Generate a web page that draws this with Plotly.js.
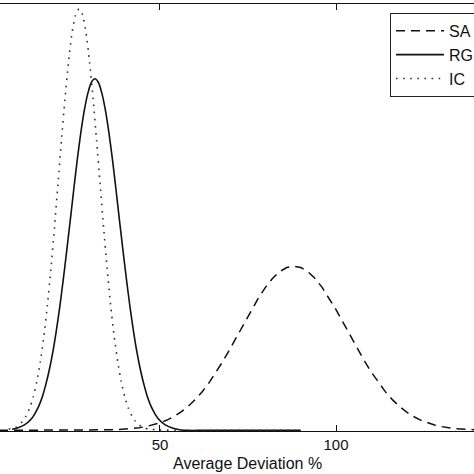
<!DOCTYPE html>
<html>
<head>
<meta charset="utf-8">
<script src="https://cdn.plot.ly/plotly-3.0.1.min.js"></script>
<style>html,body{margin:0;padding:0;background:#fff;}#chart{width:474px;height:474px;}</style>
</head>
<body>
<div id="chart"></div>
<script>
// Series names (legend)
var seriesNames = ["SA", "RG", "IC"];

// SA series (dashed)
var saX = [0, 20, 30, 36, 38, 40, 42, 44, 46, 48, 50, 52, 54, 56, 58, 60, 62, 64, 66, 68, 70, 72, 74, 76, 78, 80, 82, 84, 86, 88, 90, 92, 94, 96, 98, 100, 102, 104, 106, 108, 110, 112, 114, 116, 118, 120, 122, 124, 126, 128, 130, 132, 134, 138, 143, 150, 160];
var saY = [0, 0, 0, 0.0001, 0.00013, 0.0002, 0.00029, 0.00043, 0.00062, 0.00089, 0.00124, 0.0017, 0.00229, 0.00303, 0.00395, 0.00506, 0.00637, 0.00789, 0.0096, 0.01149, 0.01352, 0.01563, 0.01777, 0.01985, 0.0218, 0.02355, 0.025, 0.0261, 0.02677, 0.027, 0.02677, 0.0261, 0.025, 0.02355, 0.0218, 0.01985, 0.01777, 0.01563, 0.01352, 0.01149, 0.0096, 0.00789, 0.00637, 0.00506, 0.00395, 0.00303, 0.00229, 0.0017, 0.00124, 0.00089, 0.00062, 0.00043, 0.00029, 0.00013, 0.00004, 0, 0];

// RG series (solid)
var rgX = [8, 9.5, 11.5, 13.5, 14.5, 15.5, 16.5, 17.5, 18.5, 19.5, 20.5, 21.5, 22.5, 23.5, 24.5, 25.5, 26.5, 27.5, 28.5, 29.5, 30.5, 31.5, 32.5, 33.5, 34.5, 35.5, 36.5, 37.5, 38.5, 39.5, 40.5, 41.5, 42.5, 43.5, 44.5, 45.5, 46.5, 47.5, 48.5, 49.5, 51.5, 53.5, 55.5, 58, 62, 70, 80, 90];
var rgY = [0.0002, 0.0004, 0.0009, 0.0019, 0.0028, 0.0039, 0.0054, 0.0074, 0.0098, 0.0127, 0.0162, 0.0202, 0.0247, 0.0295, 0.0345, 0.0396, 0.0445, 0.0489, 0.0526, 0.0554, 0.0572, 0.0578, 0.0572, 0.0554, 0.0526, 0.0489, 0.0445, 0.0396, 0.0345, 0.0295, 0.0247, 0.0202, 0.0162, 0.0127, 0.0098, 0.0074, 0.0054, 0.0039, 0.0028, 0.0019, 0.0009, 0.0004, 0.0001, 0, 0, 0, 0, 0];

// IC series (dotted)
var icX = [7, 9, 11, 12, 13, 14, 15, 16, 17, 18, 19, 20, 21, 22, 23, 24, 25, 26, 27, 28, 29, 30, 31, 32, 33, 34, 35, 36, 37, 38, 39, 40, 41, 42, 43, 45, 47, 49, 55, 70, 90];
var icY = [0.0002, 0.0005, 0.0015, 0.0024, 0.0037, 0.0055, 0.008, 0.0113, 0.0154, 0.0205, 0.0265, 0.0332, 0.0404, 0.0476, 0.0545, 0.0605, 0.0653, 0.0683, 0.0693, 0.0683, 0.0653, 0.0605, 0.0545, 0.0476, 0.0404, 0.0332, 0.0265, 0.0205, 0.0154, 0.0113, 0.008, 0.0055, 0.0037, 0.0024, 0.0015, 0.0005, 0.0002, 0.0001, 0, 0, 0];

// Axis ticks and title
var xTickVals = [0, 50, 100, 150];
var xTickText = ["0", "50", "100", "150"];
var xAxisTitle = "Average Deviation %";

var FONT = "Liberation Sans, Arial, Helvetica, sans-serif";

var traces = [
  {x: saX, y: saY, name: seriesNames[0], type: "scatter", mode: "lines",
   line: {color: "#111", width: 1.5, dash: "9px,6px"}},
  {x: rgX, y: rgY, name: seriesNames[1], type: "scatter", mode: "lines",
   line: {color: "#111", width: 1.6, dash: "solid", shape: "spline", smoothing: 0.6}},
  {x: icX, y: icY, name: seriesNames[2], type: "scatter", mode: "lines",
   line: {color: "#333", width: 1.6, dash: "1.6px,5.5px", shape: "spline", smoothing: 0.6}}
];

var layout = {
  width: 474, height: 474,
  margin: {l: 0, r: 0, t: 4, b: 43, autoexpand: false},
  paper_bgcolor: "#fff", plot_bgcolor: "#fff",
  showlegend: true,
  font: {family: FONT, color: "#111"},
  xaxis: {
    range: [4.55, 139.2],
    tickmode: "array", tickvals: xTickVals, ticktext: xTickText,
    ticks: "inside", ticklen: 6, tickwidth: 1, tickcolor: "#111",
    showline: true, linecolor: "#111", linewidth: 1, mirror: "ticks",
    showgrid: false, zeroline: false,
    tickfont: {family: FONT, size: 15, color: "#111"}
  },
  yaxis: {
    range: [-0.0001, 0.0701],
    showline: false, showticklabels: false, ticks: "",
    showgrid: false, zeroline: false
  },
  legend: {
    x: 0.8228, y: 0.979, xanchor: "left", yanchor: "top",
    bgcolor: "#fff", bordercolor: "#222", borderwidth: 1,
    font: {family: FONT, size: 16, color: "#111"},
    itemwidth: 48, tracegroupgap: 0
  },
  annotations: [{
    text: xAxisTitle, xref: "paper", yref: "paper",
    x: 0.522, y: -0.077, xanchor: "center", yanchor: "middle",
    showarrow: false, font: {family: FONT, size: 16, color: "#111"}
  }]
};

Plotly.newPlot("chart", traces, layout, {displayModeBar: false, staticPlot: true});
</script>
</body>
</html>
